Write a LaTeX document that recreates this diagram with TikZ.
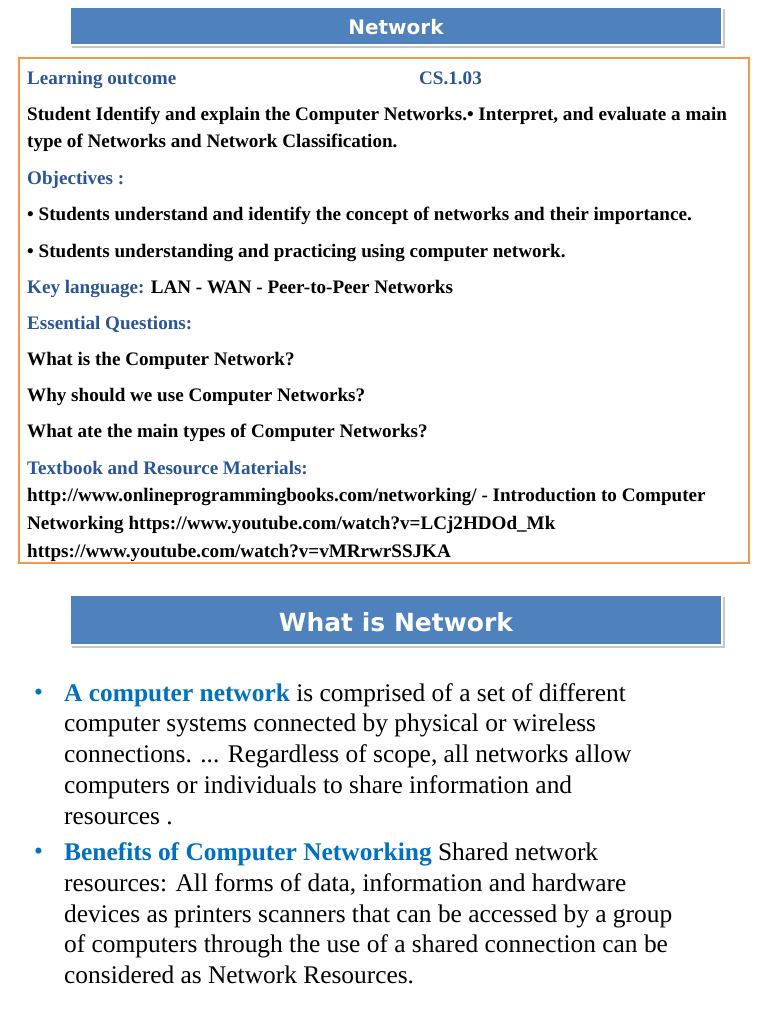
\documentclass[tikz,border=0pt]{standalone}
\usepackage{fontspec}
\setmainfont{Liberation Serif}
\newfontfamily\titlefont{DejaVu Sans}
\definecolor{barblue}{HTML}{4F81BD}
\definecolor{hblue}{HTML}{2A5596}
\definecolor{lblue}{HTML}{0070C0}
\definecolor{orng}{HTML}{F79646}
\begin{document}
\begin{tikzpicture}[x=1pt,y=-1pt,
  bar/.style={fill=barblue,draw=white,line width=1.5pt},
  shadowbar/.style={fill=black!22},
  sm/.style={anchor=base west,inner sep=0pt,font=\fontsize{19.1}{22}\selectfont\bfseries},
  bg/.style={anchor=base west,inner sep=0pt,font=\fontsize{25.4}{29}\selectfont}]
\useasboundingbox[fill=white] (0,0) rectangle (768,1024);
% title 1
\fill[shadowbar] (72,9) rectangle (725,48);
\draw[bar] (70,7) rectangle (722,45);
\node[text=white,font=\titlefont\bfseries\fontsize{20}{24}\selectfont] (t1) at (396,27) {Network};
% box
\draw[orng,line width=1.2pt] (19,58) rectangle (749,563);
\node[sm,text=hblue] (l1) at (27,85) {Learning outcome};
\node[sm,text=hblue] (l1b) at (419,85) {CS.1.03};
\node[sm] (l2) at (27,121) {Student Identify and explain the Computer Networks.• Interpret, and evaluate a main};
\node[sm] (l3) at (27,148) {type of Networks and Network Classification.};
\node[sm,text=hblue] (l4) at (27,185) {Objectives :};
\node[sm] (l5) at (27,221) {• Students understand and identify the concept of networks and their importance.};
\node[sm] (l6) at (27,257) {• Students understanding and practicing using computer network.};
\node[sm] (l7) at (27,293) {\textcolor{hblue}{Key language:} LAN - WAN - Peer-to-Peer Networks};
\node[sm,text=hblue] (l8) at (27,329) {Essential Questions:};
\node[sm] (l9) at (27,365) {What is the Computer Network?};
\node[sm] (l10) at (27,401) {Why should we use Computer Networks?};
\node[sm] (l11) at (27,437) {What ate the main types of Computer Networks?};
\node[sm,text=hblue] (l12) at (27,474) {Textbook and Resource Materials:};
\node[sm] (l13) at (27,501) {http://www.onlineprogrammingbooks.com/networking/ - Introduction to Computer};
\node[sm] (l14) at (27,529) {Networking https://www.youtube.com/watch?v=LCj2HDOd\_Mk};
\node[sm] (l15) at (27,557) {https://www.youtube.com/watch?v=vMRrwrSSJKA};
% title 2
\fill[shadowbar] (72,597) rectangle (725,648);
\draw[bar] (70,595) rectangle (722,645);
\node[text=white,font=\titlefont\bfseries\fontsize{25}{30}\selectfont] (t2) at (396,622) {What is Network};
% bullets
\node[bg,text=lblue] (b1) at (34,700) {•};
\node[bg,text=lblue] (b2) at (34,859) {•};
\node[bg] (p1) at (64,701) {\textcolor{lblue}{\bfseries A computer network} is comprised of a set of different};
\node[bg] (p2) at (64,731) {computer systems connected by physical or wireless};
\node[bg] (p3) at (64,762) {connections. ... Regardless of scope, all networks allow};
\node[bg] (p4) at (64,793) {computers or individuals to share information and};
\node[bg] (p5) at (64,824) {resources .};
\node[bg] (q1) at (64,860) {\textcolor{lblue}{\bfseries Benefits of Computer Networking} Shared network};
\node[bg] (q2) at (64,891) {resources: All forms of data, information and hardware};
\node[bg] (q3) at (64,922) {devices as printers scanners that can be accessed by a group};
\node[bg] (q4) at (64,952) {of computers through the use of a shared connection can be};
\node[bg] (q5) at (64,983) {considered as Network Resources.};
\end{tikzpicture}
\end{document}
